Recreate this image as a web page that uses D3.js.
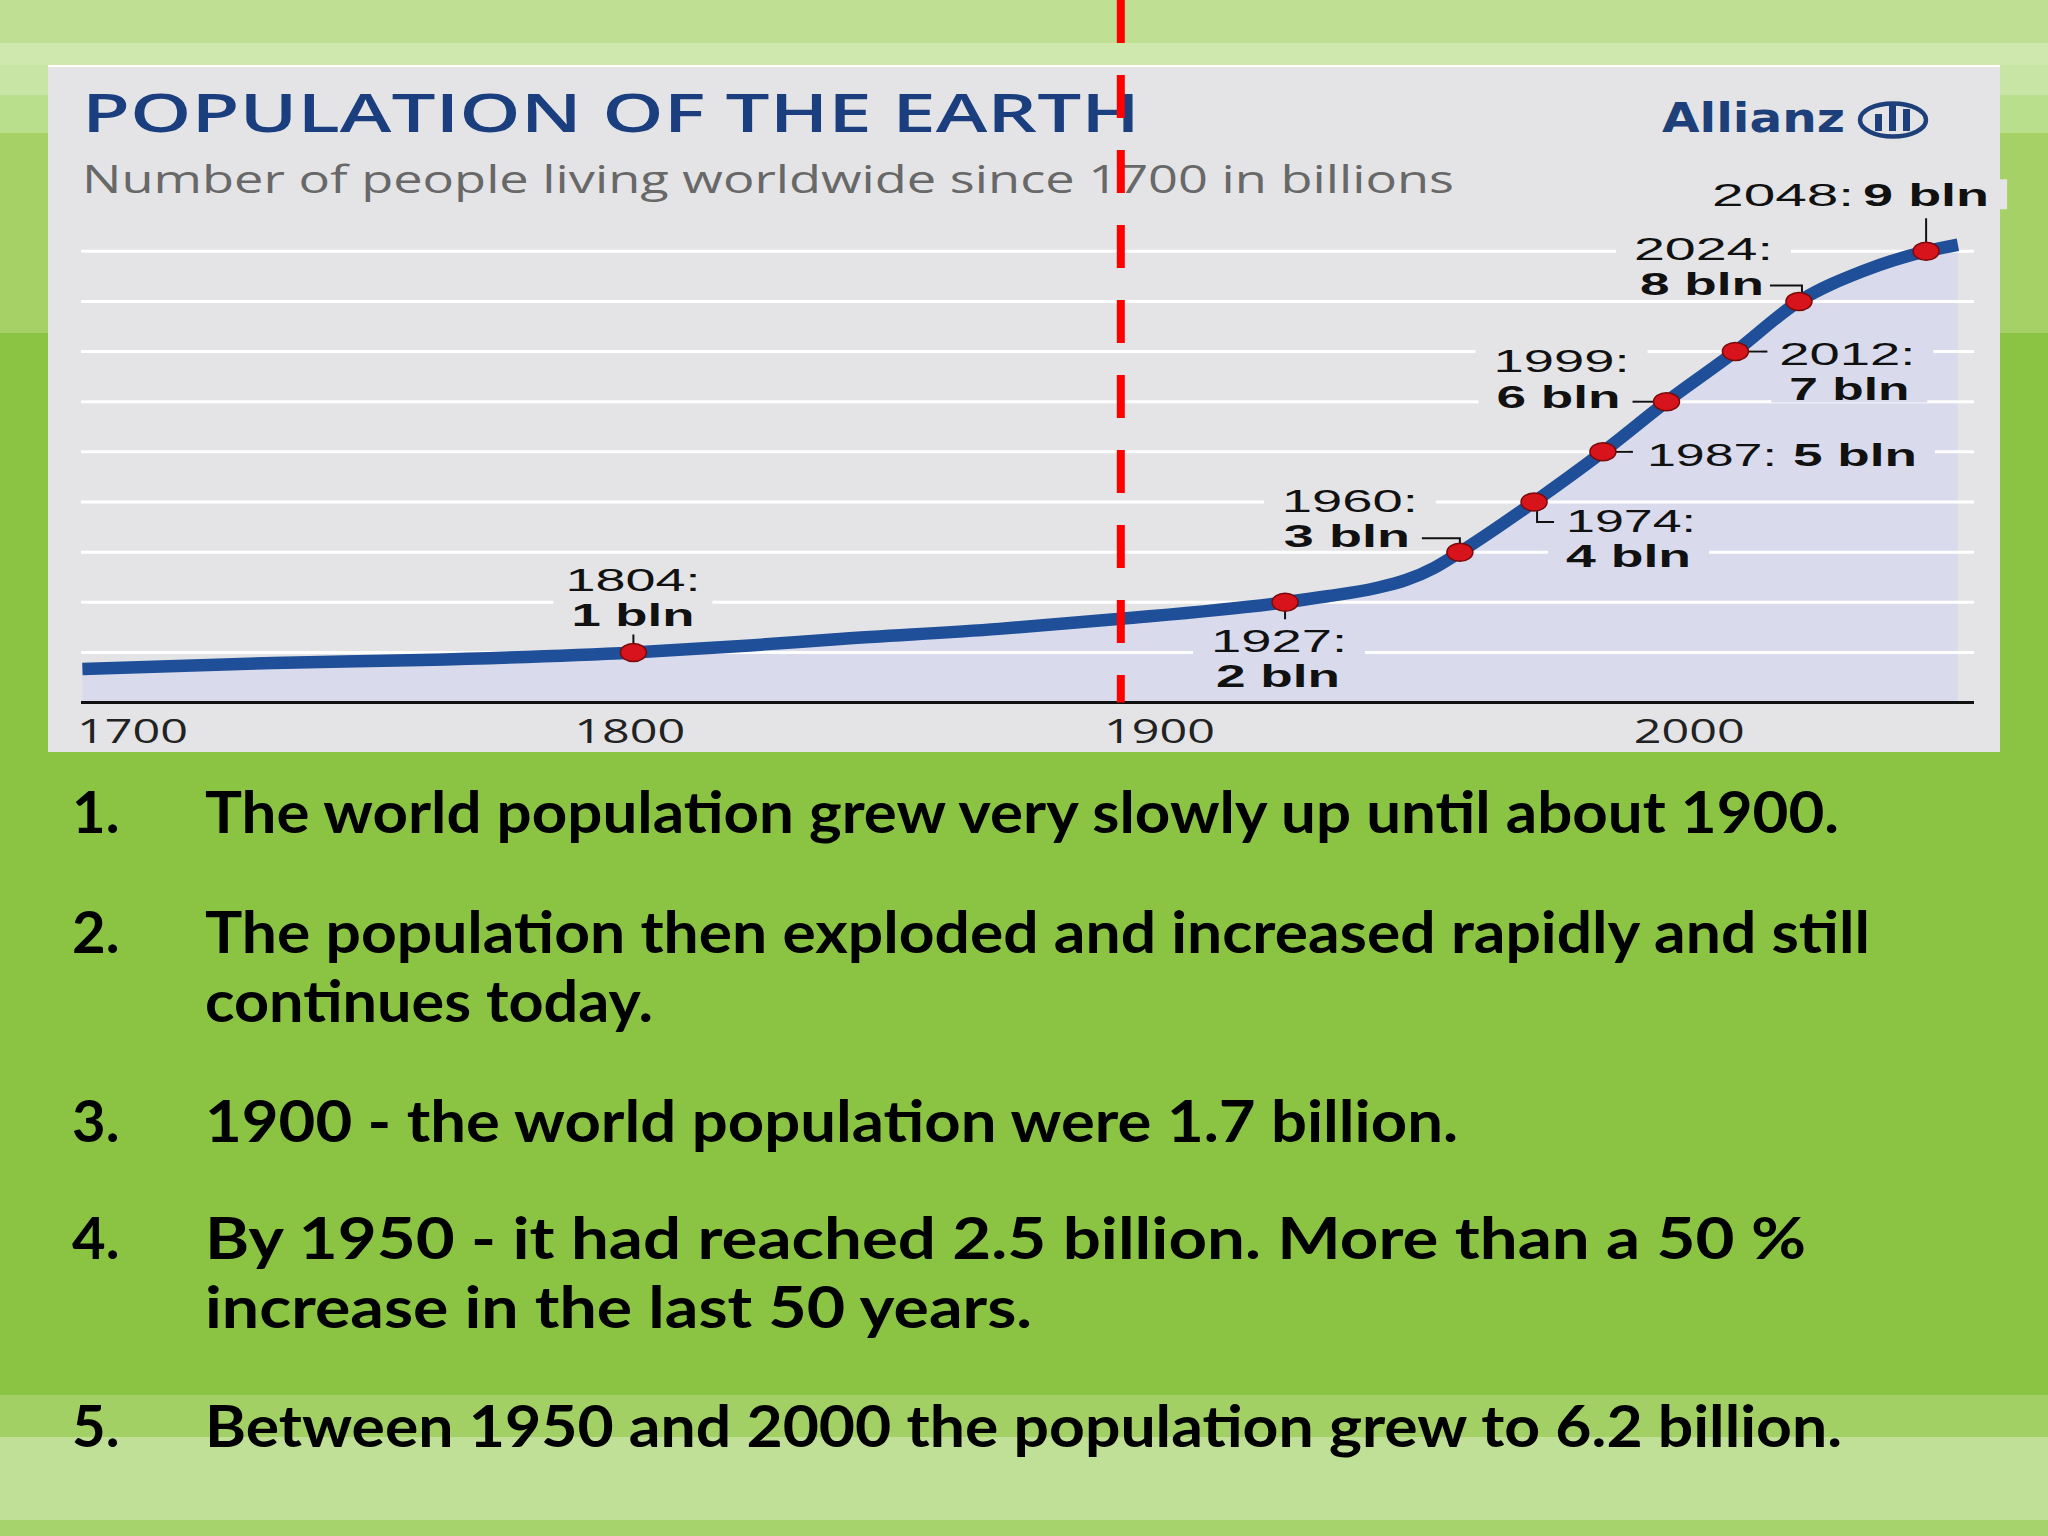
<!DOCTYPE html>
<html><head><meta charset="utf-8">
<script src="https://cdn.jsdelivr.net/npm/d3@7"></script>
<style>html,body{margin:0;padding:0;background:#8bc443;} svg{display:block}</style>
</head><body>
<svg id="c" width="2048" height="1536"></svg>
<script>
// ---------------- DATA ----------------
const curveYears  = [1700,1736,1764,1804,1826,1843,1873,1896,1927,1935,1944,1950,1955,1960,1974,1987,1999,2012,2024,2036,2048,2054];
const curveValues = [0.67,0.79,0.85,1.0,1.14,1.27,1.47,1.67,2.0,2.12,2.28,2.45,2.68,3.0,4.0,5.0,6.0,7.0,8.0,8.6,9.0,9.13];
const milestoneYears  = [1804,1927,1960,1974,1987,1999,2012,2024,2048];
const milestoneValues = [1,2,3,4,5,6,7,8,9];
const tickYears  = [1700,1800,1900,2000];
const gridValues = [1,2,3,4,5,6,7,8,9];
const markerYear = 1896;
const titleText = "POPULATION OF THE EARTH";
const subtitleText = "Number of people living worldwide since 1700 in billions";
const brandText = "Allianz";
const bulletNumbers = ["1.","2.","3.","4.","5."];
const bulletLines = [
  ["The world population grew very slowly up until about 1900."],
  ["The population then exploded and increased rapidly and still","continues today."],
  ["1900 - the world population were 1.7 billion."],
  ["By 1950 -  it had reached 2.5 billion. More than a 50 %","increase in the last 50 years."],
  ["Between 1950 and 2000 the population grew to 6.2 billion."]
];

// ---------------- LAYOUT ----------------
const W = 2048, H = 1536;
const panel = {x:48, y:65, w:1952, h:687};
const plotLeft = 81, plotRight = 1974;
const PANEL_C = "#e4e4e6", AREA_C = "#d9dbec";
const bands = [
  {y:0,h:43,c:"#bfe093"},{y:43,h:22,c:"#cfe8ae"},{y:65,h:30,c:"#c9e5a5"},
  {y:95,h:38,c:"#b9de8c"},{y:133,h:200,c:"#a5d166"},{y:333,h:1062,c:"#8bc443"},
  {y:1395,h:42,c:"#a3d064"},{y:1437,h:83,c:"#bfe096"},{y:1520,h:16,c:"#a6d36b"}
];
const labelLayout = [
  {bg:"p", lines:[{dx:-68,dy:-61,w:135},{dx:-62,dy:-26,w:123}], leader:[[0,-18],[0,-9]]},
  {bg:"a", lines:[{dx:-74,dy:50,w:136},{dx:-69,dy:85,w:124}], leader:[[0,9],[0,17]]},
  {bg:"p", lines:[{dx:-178,dy:-40,w:136},{dx:-176,dy:-5,w:126}], leader:[[-38,-14],[0,-14],[0,-8]]},
  {bg:"a", lines:[{dx:32,dy:30,w:130},{dx:32,dy:65,w:125}], leader:[[3,8],[3,20],[20,20]]},
  {bg:"a", lines:[{dx:44,dy:14,w:130},{dx:190,dy:14,w:124}], leader:[[12,0],[30,0]]},
  {bg:"p", lines:[{dx:-173,dy:-30,w:136},{dx:-170,dy:6,w:124}], leader:[[-34,0],[-13,0]]},
  {bg:"a", lines:[{dx:44,dy:13,w:136},{dx:54,dy:48,w:120}], leader:[[12,0],[32,0]]},
  {bg:"p", lines:[{dx:-165,dy:-41,w:139},{dx:-159,dy:-6,w:124}], leader:[[-29,-16],[3,-16],[3,-8]]},
  {bg:"p", lines:[{dx:-214,dy:-45,w:142},{dx:-63,dy:-45,w:126}], leader:[[0,-33],[0,-9]]}
];
const bulletLayout = [
  {y:[833], w:[1634]}, {y:[953,1022], w:[1665,448]}, {y:[1142], w:[1253]},
  {y:[1259,1328], w:[1601,827]}, {y:[1447], w:[1637]}
];
const HEAD_FONT = "'Open Sans','Noto Sans',sans-serif";
const LABEL_FONT = "'Liberation Sans',Arial,sans-serif";

const svg = d3.select("#c");

// background bands
svg.selectAll("rect.band").data(bands).join("rect").attr("class","band")
  .attr("x",0).attr("y",d=>d.y).attr("width",W).attr("height",d=>d.h).attr("fill",d=>d.c);

// panel
svg.append("rect").attr("x",panel.x).attr("y",panel.y).attr("width",panel.w).attr("height",panel.h).attr("fill",PANEL_C);
svg.append("line").attr("x1",panel.x).attr("x2",panel.x+panel.w).attr("y1",panel.y+1).attr("y2",panel.y+1)
  .attr("stroke","#ffffff").attr("stroke-width",2);

// scales
const x = d3.scaleLinear().domain([1700, 2054]).range([82.4, 1957.9]);
const y = d3.scaleLinear().domain([0, 9]).range([702.6, 251.25]);

const curve = curveYears.map((yr,i)=>({year:yr, value:curveValues[i]}));
const miles = milestoneYears.map((yr,i)=>({year:yr, value:milestoneValues[i]}));

// area
const area = d3.area().x(d=>x(d.year)).y0(y(0)).y1(d=>y(d.value)).curve(d3.curveMonotoneX);
svg.append("path").datum(curve).attr("d",area).attr("fill",AREA_C);

// gridlines
svg.selectAll("line.grid").data(gridValues).join("line").attr("class","grid")
  .attr("x1",plotLeft).attr("x2",plotRight).attr("y1",d=>y(d)).attr("y2",d=>y(d))
  .attr("stroke","#ffffff").attr("stroke-width",3);

// title / subtitle
svg.append("text").attr("x",82).attr("y",132).text(titleText)
  .attr("font-family",HEAD_FONT).attr("font-size",53).attr("font-weight",600)
  .attr("fill","#1b3f7e").attr("textLength",1058).attr("lengthAdjust","spacingAndGlyphs");
svg.append("text").attr("x",82).attr("y",193).text(subtitleText)
  .attr("font-family",HEAD_FONT).attr("font-size",39)
  .attr("fill","#686868").attr("textLength",1372).attr("lengthAdjust","spacingAndGlyphs");

// brand logo
const logo = svg.append("g");
logo.append("text").attr("x",1662).attr("y",132).text(brandText)
  .attr("font-family","'DejaVu Sans',sans-serif").attr("font-weight",700).attr("font-size",40)
  .attr("fill","#1d3f7a").attr("textLength",183).attr("lengthAdjust","spacingAndGlyphs");
logo.append("ellipse").attr("cx",1893).attr("cy",120).attr("rx",33).attr("ry",16.5)
  .attr("fill","none").attr("stroke","#1d3f7a").attr("stroke-width",4.5);
[[1875,114,7,17],[1889,105,7,26],[1903,109,7,22]].forEach(b=>{
  logo.append("rect").attr("x",b[0]).attr("y",b[1]).attr("width",b[2]).attr("height",b[3]).attr("fill","#1d3f7a");
});

// x axis
svg.append("line").attr("x1",plotLeft).attr("x2",plotRight).attr("y1",y(0)).attr("y2",y(0))
  .attr("stroke","#111").attr("stroke-width",3);
const axis = d3.axisBottom(x).tickValues(tickYears).tickSize(0).tickFormat(d3.format("d"));
const ag = svg.append("g").attr("transform",`translate(0,${y(0)})`).call(axis);
ag.select(".domain").remove();
ag.selectAll(".tick text")
  .attr("y",40).attr("dy",0)
  .attr("font-family",HEAD_FONT).attr("font-size",33).attr("fill","#222")
  .attr("text-anchor",(d,i)=> i===0 ? "start":"middle")
  .attr("dx",(d,i)=> i===0 ? -6 : 17)
  .attr("textLength",111).attr("lengthAdjust","spacingAndGlyphs");

// milestone labels (background knock-outs, then one text per label)
const lblG = svg.append("g");
miles.forEach((m,i)=>{
  const L = labelLayout[i];
  const cx = x(m.year), cy = y(m.value);
  const g = lblG.append("g");
  const texts = [m.year + ":", m.value + " bln"];
  L.lines.forEach(ln=>{
    g.append("rect").attr("x",cx+ln.dx-18).attr("y",cy+ln.dy-27).attr("width",ln.w+36).attr("height",30)
      .attr("fill", L.bg==="p" ? PANEL_C : AREA_C);
  });
  const t = g.append("text").attr("font-family",LABEL_FONT).attr("font-size",31).attr("fill","#111");
  L.lines.forEach((ln,j)=>{
    t.append("tspan").attr("x",cx+ln.dx).attr("y",cy+ln.dy).text(texts[j])
      .attr("font-weight", j===0 ? 400 : 700)
      .attr("textLength",ln.w).attr("lengthAdjust","spacingAndGlyphs");
  });
  g.append("path").attr("d", d3.line()(L.leader.map(p=>[cx+p[0], cy+p[1]])))
    .attr("fill","none").attr("stroke","#111").attr("stroke-width",2);
});

// curve
const line = d3.line().x(d=>x(d.year)).y(d=>y(d.value)).curve(d3.curveMonotoneX);
svg.append("path").datum(curve).attr("d",line).attr("fill","none")
  .attr("stroke","#1e4f98").attr("stroke-width",12.5);

// dots
svg.selectAll("ellipse.dot").data(miles).join("ellipse").attr("class","dot")
  .attr("cx",d=>x(d.year)).attr("cy",d=>y(d.value)).attr("rx",13).attr("ry",9)
  .attr("fill","#d7141b").attr("stroke","#7a0a0a").attr("stroke-width",1.5);

// bullets
const bg = svg.append("g").style("white-space","pre");
bulletNumbers.forEach((n,i)=>{
  const Lb = bulletLayout[i];
  bg.append("text").attr("x",72).attr("y",Lb.y[0]).text(n)
    .attr("font-family","'Comic Sans MS','Lato',sans-serif").attr("font-weight",700).attr("font-size",58).attr("fill","#000");
  bulletLines[i].forEach((s,j)=>{
    bg.append("text").attr("x",205).attr("y",Lb.y[j]).text(s)
      .attr("font-family","'Comic Sans MS','Lato',sans-serif").attr("font-weight",700).attr("font-size",58).attr("fill","#000")
      .attr("textLength",Lb.w[j]).attr("lengthAdjust","spacingAndGlyphs");
  });
});

// red dashed marker line
svg.append("line").attr("x1",x(markerYear)).attr("x2",x(markerYear)).attr("y1",0).attr("y2",y(0))
  .attr("stroke","#ff0000").attr("stroke-width",8).attr("stroke-dasharray","43 32");
</script>
</body></html>
